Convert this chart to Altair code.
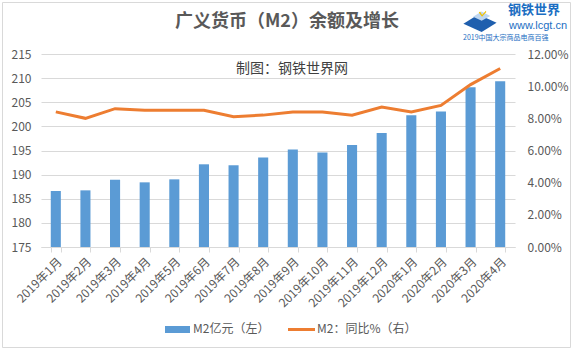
import altair as alt
import pandas as pd

# Monthly M2 balance (万亿元) and year-on-year growth (%)
months = ["2019年1月", "2019年2月", "2019年3月", "2019年4月", "2019年5月", "2019年6月",
          "2019年7月", "2019年8月", "2019年9月", "2019年10月", "2019年11月", "2019年12月",
          "2020年1月", "2020年2月", "2020年3月", "2020年4月"]
m2_balance = [186.59, 186.74, 188.94, 188.40, 189.02, 192.14, 191.94, 193.55,
              195.23, 194.56, 196.14, 198.65, 202.31, 203.08, 208.09, 209.35]
m2_yoy_pct = [8.4, 8.0, 8.6, 8.5, 8.5, 8.5, 8.1, 8.2, 8.4, 8.4, 8.2, 8.7, 8.4, 8.8, 10.1, 11.1]

left_ticks = [175, 180, 185, 190, 195, 200, 205, 210, 215]
right_ticks = [0, 0.02, 0.04, 0.06, 0.08, 0.10, 0.12]

df = pd.DataFrame({
    "month": months,
    "m2": m2_balance,
    "yoy": [v / 100 for v in m2_yoy_pct],
})

FONT = "Noto Sans CJK SC"
GREY = "#595959"
GRID = "#D9D9D9"
BLUE = "#5B9BD5"
ORANGE = "#ED7D31"

W, H = 474, 193

x_enc = alt.X(
    "month:N", sort=months, title=None,
    scale=alt.Scale(paddingInner=0.66, paddingOuter=0.33),
    axis=alt.Axis(labelAngle=-45, labelFontSize=12, labelColor=GREY, labelFont=FONT,
                  domainColor=GRID, tickColor=GRID, tickSize=5, tickBand="extent",
                  labelPadding=4),
)

bars = alt.Chart(df).mark_bar(color=BLUE).encode(
    x=x_enc,
    y=alt.Y("m2:Q", title=None,
            scale=alt.Scale(domain=[175, 215], zero=False, nice=False),
            axis=alt.Axis(values=left_ticks, grid=True, gridColor=GRID, domain=False,
                          ticks=False, labelColor=GREY, labelFontSize=12, labelFont=FONT,
                          labelPadding=10)),
    y2=alt.datum(175),
)

line = alt.Chart(df).mark_line(color=ORANGE, strokeWidth=3).encode(
    x=alt.X("month:N", sort=months, bandPosition=0.5),
    y=alt.Y("yoy:Q", title=None,
            scale=alt.Scale(domain=[0, 0.12], nice=False),
            axis=alt.Axis(orient="right", values=right_ticks, format=".2%", grid=False,
                          domain=False, ticks=False, labelColor=GREY, labelFontSize=12,
                          labelFont=FONT, labelPadding=12)),
)


def txt(s, x, y, size, color=GREY, weight="normal", align="center", font=FONT):
    return alt.Chart(pd.DataFrame({"t": [s]})).mark_text(
        font=font, fontSize=size, color=color, fontWeight=weight,
        align=align, baseline="middle",
    ).encode(text="t:N", x=alt.value(x), y=alt.value(y))


def shape(path, x, y, size, color):
    return alt.Chart(pd.DataFrame({"k": [0]})).mark_point(
        shape=path, filled=True, fill=color, opacity=1, strokeWidth=0, size=size,
    ).encode(x=alt.value(x), y=alt.value(y))


one = pd.DataFrame({"k": [0]})

border = alt.Chart(one).mark_rect(fill=None, stroke=GRID, strokeWidth=1).encode(
    x=alt.value(-38.5), x2=alt.value(529.5), y=alt.value(-51.5), y2=alt.value(293.5)
)

title = txt("广义货币（M2）余额及增长", 246, -32, 18, weight="bold")
credit = txt("制图：钢铁世界网", 251, 15, 14, color="#404040")

# site badge in the top-right corner
logo_base = shape("M -1 0.1 L -0.1 -0.45 L 1 0.05 L 0.1 0.6 Z", 439, -32, 1100, "#1F5FAE")
logo_top = shape("M -0.6 -0.1 L 0.05 -0.5 L 0.7 -0.15 L 0.05 0.2 Z", 440, -36, 700, "#BFD7F0")
logo_mark = shape("M -0.6 -0.3 L -0.2 0.4 L 0.6 -0.5 L 0.7 -0.2 L -0.2 0.8 L -0.9 -0.1 Z",
                  442, -41, 90, "#F2C100")
logo_name = txt("钢铁世界", 467, -44, 13, color="#1B6EC2", weight="bold", align="left")
logo_url = txt("www.lcgt.cn", 468, -28, 11, color="#1B6EC2", align="left",
               font="Liberation Sans")
logo_tag = txt("2019中国大宗商品电商百强", 422, -16, 7, color="#1B6EC2", align="left")

# legend
leg_bar = alt.Chart(one).mark_rect(color=BLUE).encode(
    x=alt.value(124), x2=alt.value(149), y=alt.value(272), y2=alt.value(279)
)
leg_bar_t = txt("M2亿元（左）", 152, 275, 12, align="left")
leg_line = alt.Chart(one).mark_rule(color=ORANGE, strokeWidth=3).encode(
    x=alt.value(247), x2=alt.value(274), y=alt.value(275.5)
)
leg_line_t = txt("M2：同比%（右）", 276, 275, 12, align="left")

chart = alt.layer(
    bars, line,
    border, title, credit,
    logo_base, logo_top, logo_mark, logo_name, logo_url, logo_tag,
    leg_bar, leg_bar_t, leg_line, leg_line_t,
).resolve_scale(y="independent").properties(
    width=W, height=H,
    autosize=alt.AutoSizeParams(type="none"),
    padding={"left": 41, "top": 54, "right": 60, "bottom": 106},
    background="white",
).configure_view(stroke=None)

chart.save("out.html", embed_options={"renderer": "svg", "actions": False})
